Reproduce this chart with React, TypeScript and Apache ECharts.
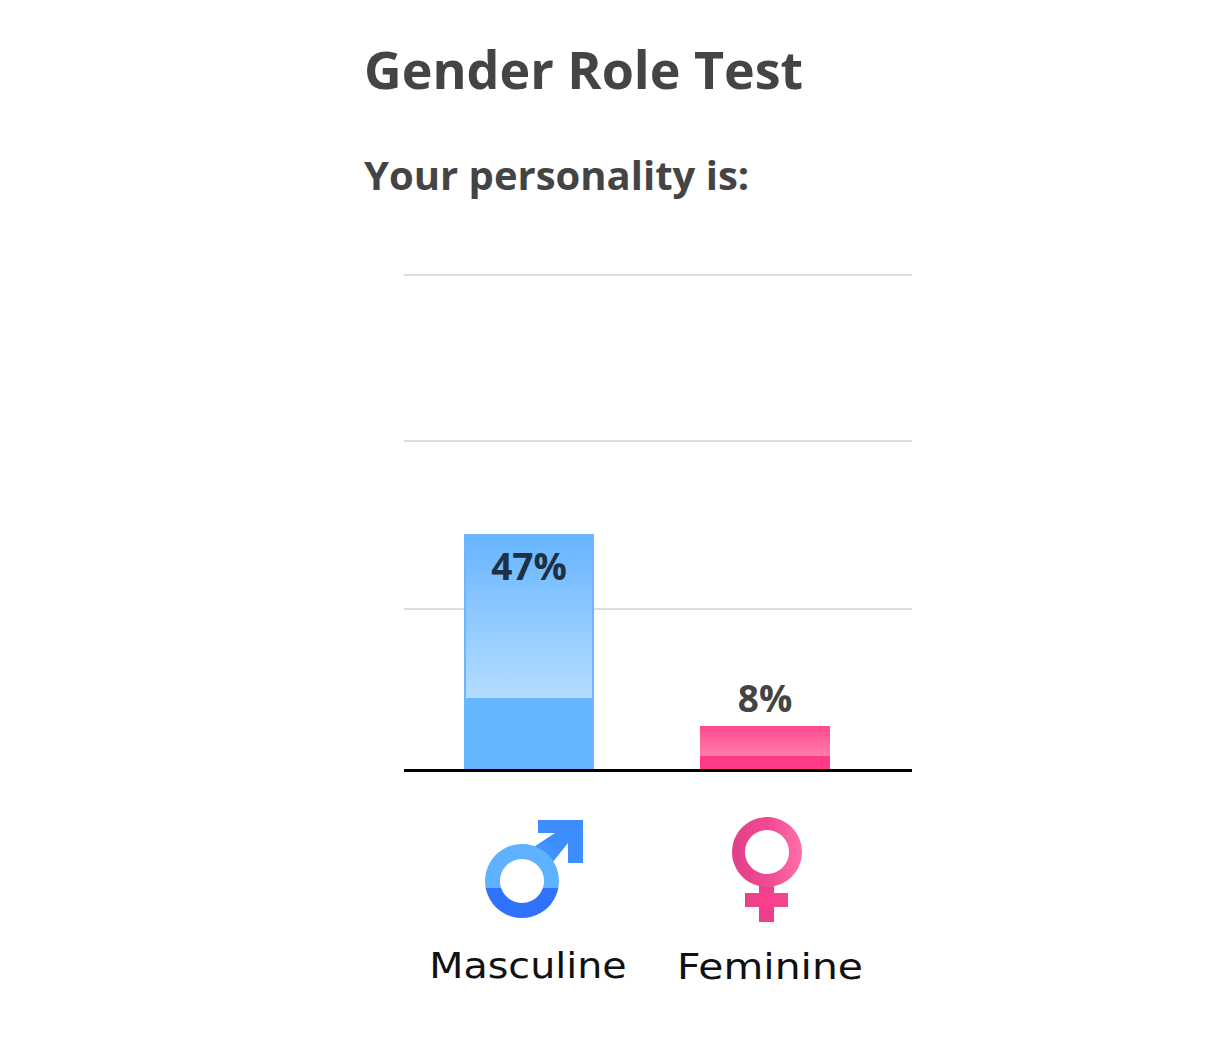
import React, { useEffect, useRef } from "react";
import * as echarts from "echarts";

const titleText = "Gender Role Test";
const subtitleText = "Your personality is:";
const categories = ["Masculine", "Feminine"];
const barValues = [47.7, 8.9];
const barLabels = ["47%", "8%"];
const gridValues = [0, 32.5, 66.5, 100];

const FONT = '"Open Sans", sans-serif';

const grad = (stops: [number, string][], x2 = 0, y2 = 1) => ({
  type: "linear", x: 0, y: 0, x2, y2,
  colorStops: stops.map(([offset, color]) => ({ offset, color })),
});

const blueFill = grad([[0, "#66b5ff"], [0.695, "#b6dcff"], [0.695, "#66b5ff"], [1, "#66b5ff"]]);
const pinkFill = grad([[0, "#ff4a8e"], [0.68, "#ff7dab"], [0.68, "#ff3a88"], [1, "#ff3a88"]]);
const maleRing = grad([[0, "#5fb2ff"], [0.6, "#5fb2ff"], [0.6, "#2f72fb"], [1, "#2f72fb"]]);
const femaleRing = grad([[0, "#e23f88"], [0.5, "#f04a92"], [1, "#ff6fa8"]], 1, 0);

export default function App() {
  const ref = useRef<HTMLDivElement>(null);
  useEffect(() => {
    const chart = echarts.init(ref.current!, null, { renderer: "svg" });
    chart.setOption({
      animation: false,
      backgroundColor: "#ffffff",
      title: [
        { text: titleText, left: 359, top: 37, textStyle: { fontFamily: FONT, fontWeight: 700, fontSize: 52, color: "#444444" } },
        { text: subtitleText, left: 359, top: 149, textStyle: { fontFamily: FONT, fontWeight: 700, fontSize: 40, color: "#444444" } },
      ],
      grid: [
        { left: 404, top: 275, width: 508, height: 495 },
        { left: 411, top: 275, width: 472, height: 495 },
      ],
      xAxis: [
        {
          type: "value", gridIndex: 0, min: 0, max: 1, z: 5,
          axisLine: { show: true, onZero: false, lineStyle: { color: "#000000", width: 3, cap: "butt" } },
          axisTick: { show: false }, axisLabel: { show: false }, splitLine: { show: false },
        },
        {
          type: "category", gridIndex: 1, data: categories,
          axisLine: { show: false }, axisTick: { show: false }, axisLabel: { show: false },
        },
      ],
      yAxis: [
        {
          type: "value", gridIndex: 0, min: 0, max: 100,
          axisLine: { show: false },
          axisTick: { show: false, customValues: gridValues },
          axisLabel: { show: false, customValues: gridValues },
          splitLine: { show: true, lineStyle: { color: "#dddddd", width: 2 } },
        },
        {
          type: "value", gridIndex: 1, min: 0, max: 100,
          axisLine: { show: false }, axisTick: { show: false }, axisLabel: { show: false }, splitLine: { show: false },
        },
      ],
      series: [
        {
          type: "bar", xAxisIndex: 1, yAxisIndex: 1, barWidth: 130,
          data: [
            {
              value: barValues[0],
              itemStyle: { color: blueFill, borderColor: "#6ab7ff", borderWidth: 2 },
              label: { show: true, position: "insideTop", distance: 13, formatter: barLabels[0], color: "#1d3146" },
            },
            {
              value: barValues[1],
              itemStyle: { color: pinkFill },
              label: { show: true, position: "top", distance: 10, formatter: barLabels[1], color: "#444444" },
            },
          ],
          label: { fontFamily: FONT, fontWeight: 700, fontSize: 37 },
        },
      ],
      graphic: [
        {
          type: "polygon", z: 10,
          shape: { points: [[538, 820], [538, 833], [555, 833], [526, 852], [548, 868], [568, 843], [568, 863], [583, 863], [583, 820]] },
          style: { fill: grad([[0, "#3d8dff"], [1, "#66b5ff"]], -1, 1) },
        },
        {
          type: "ring", z: 11,
          shape: { cx: 522, cy: 881, r: 37, r0: 22 },
          style: { fill: maleRing },
        },
        {
          type: "rect", z: 10,
          shape: { x: 759, y: 884, width: 15, height: 38 },
          style: { fill: "#ee3f8e" },
        },
        {
          type: "rect", z: 10,
          shape: { x: 745, y: 893, width: 43, height: 14 },
          style: { fill: grad([[0, "#e8418b"], [0.55, "#ff3f8f"], [1, "#ee4a90"]], 1, 0) },
        },
        {
          type: "ring", z: 11,
          shape: { cx: 767, cy: 852, r: 35, r0: 22 },
          style: { fill: femaleRing },
        },
        {
          type: "text", z: 12, x: 528, y: 966, scaleX: 1.1,
          style: { text: categories[0], fontFamily: '"DejaVu Sans"', fontSize: 36, fill: "#111111", align: "center", verticalAlign: "middle" },
        },
        {
          type: "text", z: 12, x: 770, y: 966, scaleX: 1.136,
          style: { text: categories[1], fontFamily: '"DejaVu Sans"', fontSize: 36, fill: "#111111", align: "center", verticalAlign: "middle" },
        },
      ],
    });
    return () => chart.dispose();
  }, []);
  return <div ref={ref} style={{ position: "absolute", left: 0, top: 0, width: 1232, height: 1051 }} />;
}
